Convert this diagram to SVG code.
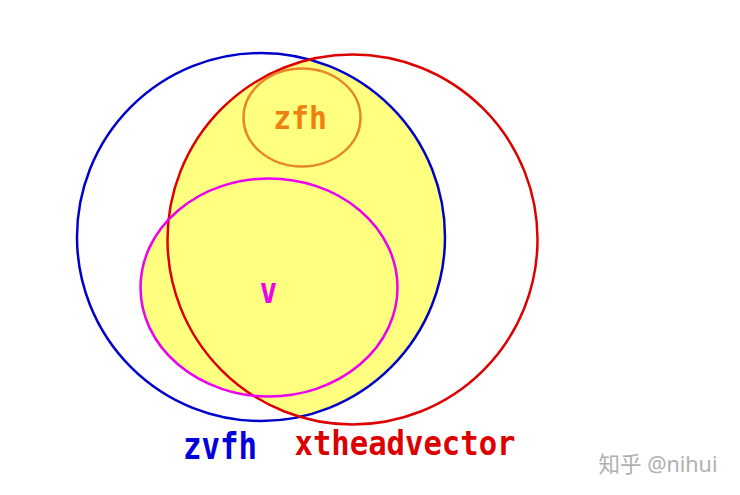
<svg xmlns="http://www.w3.org/2000/svg" width="740" height="495" viewBox="0 0 740 495">
<style>
.lbl{font-family:"DejaVu Sans Mono","Liberation Mono",monospace;font-weight:bold;text-anchor:middle}
.set{fill:none;stroke-width:2.5}
</style>
<defs>
<clipPath id="clipBlue"><ellipse cx="261" cy="237" rx="184" ry="184"/></clipPath>
</defs>
<rect width="740" height="495" fill="#fff"/>
<g id="fill">
<ellipse cx="352.5" cy="239.5" rx="185" ry="185" fill="#ffff80" clip-path="url(#clipBlue)"/>
<ellipse cx="269" cy="287.5" rx="128.5" ry="109" fill="#ffff80"/>
</g>
<g id="zvfh">
<ellipse class="set" cx="261" cy="237" rx="184" ry="184" stroke="#0000cc"/>
<text class="lbl" transform="translate(220 459) scale(0.83 1)" font-size="37" fill="#0000dd">zvfh</text>
</g>
<g id="xtheadvector">
<ellipse class="set" cx="352.5" cy="239.5" rx="185" ry="185" stroke="#dd0000"/>
<text class="lbl" transform="translate(405 455) scale(0.9 1)" font-size="34" fill="#dd0000">xtheadvector</text>
</g>
<g id="zfh">
<ellipse class="set" cx="302" cy="117.5" rx="58.5" ry="49" stroke="#e8862a"/>
<text class="lbl" transform="translate(300 129) scale(0.93 1)" font-size="32" fill="#f08010">zfh</text>
</g>
<g id="v">
<ellipse class="set" cx="269" cy="287.5" rx="128.5" ry="109" stroke="#ee00ee"/>
<text class="lbl" transform="translate(268.5 303) scale(0.8 1)" font-size="36" fill="#ee00ee">v</text>
</g>
<g id="connectors"/>
<text x="658" y="472" font-family="'Noto Sans','Noto Sans CJK SC',sans-serif" font-size="21.5" fill="#b0b0b0" text-anchor="middle">知乎 @nihui</text>
</svg>
